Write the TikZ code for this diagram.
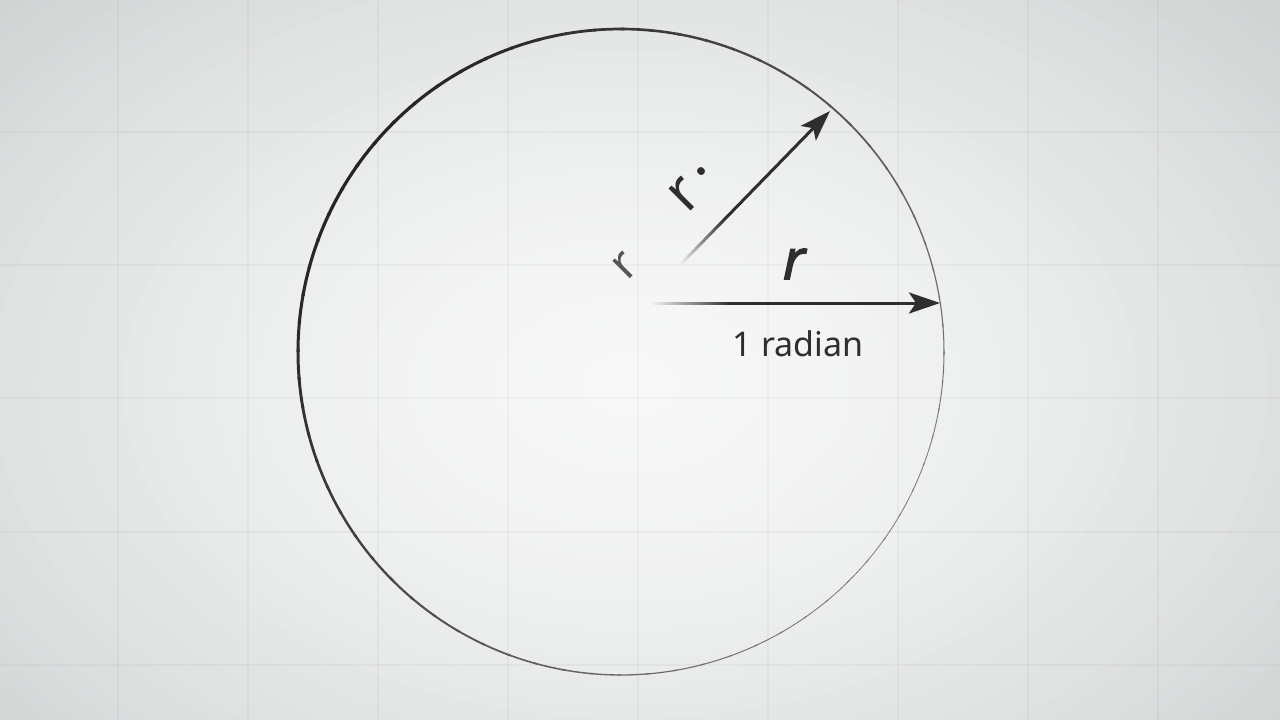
\documentclass[tikz,border=0pt]{standalone}
\usepackage{fontspec}
\setmainfont{Noto Sans}
\newfontfamily\heavyital[FakeBold=2.2,ItalicFont={* Italic}]{Noto Sans}
\usetikzlibrary{arrows.meta,calc}
\definecolor{bglight}{HTML}{F8F8F8}
\definecolor{bgdark}{HTML}{D0D3D3}
\definecolor{ink}{HTML}{2E2E2E}
\definecolor{circdark}{HTML}{242424}
\definecolor{circlight}{HTML}{7A7A7A}
\definecolor{gridc}{HTML}{000000}
\definecolor{softink}{HTML}{555555}
\begin{document}
\begin{tikzpicture}[x=1pt,y=-1pt,
  lab/.style={inner sep=0pt, text=ink},
  shaft/.style={line width=3pt, draw=ink},
  tip/.style={-{Stealth[length=31pt,width=21pt,inset=7pt]}},
  gridline/.style={draw=gridc, opacity=0.03, line width=2pt}]
\useasboundingbox (0,0) rectangle (1280,720);
% background
\begin{scope}
\clip (0,0) rectangle (1280,720);
\fill[bgdark] (0,0) rectangle (1280,720);
\foreach \i in {40,39,...,1}{
  \pgfmathtruncatemacro\p{100*(\i/40)^1.5}
  \fill[bgdark!\p!bglight] (630,385) ellipse[x radius={\i*22}, y radius={\i*14.5}];
}
\foreach \x in {118,248,...,1158} \draw[gridline] (\x,0) -- (\x,720);
\foreach \y in {132,265,398,532,665} \draw[gridline] (0,\y) -- (1280,\y);
\end{scope}
% circle
\coordinate (O) at (621,352);
\foreach \a in {0,5,...,355}{
  \pgfmathsetmacro\w{2.0+1.2*cos(\a+2.5-215)}
  \pgfmathtruncatemacro\p{50+50*cos(\a+2.5-215)}
  \draw[line width=\w pt, draw=circdark!\p!circlight] ({621+323*cos(\a)},{352+323*sin(\a)}) arc[start angle=\a, end angle=\a+5.6, radius=323];
}
% horizontal arrow
\coordinate (h0) at (652,303);
\coordinate (h1) at (940,303);
\draw[shaft, tip] ($(h0)!0.28!(h1)$) -- (h1);
\foreach \i in {0,...,27}{
  \pgfmathsetmacro\o{(\i+1)/28}
  \draw[shaft, opacity=\o] ($(h0)!{\i*0.01}!(h1)$) -- ($(h0)!{(\i+1)*0.01}!(h1)$);
}
% diagonal arrow
\coordinate (d0) at (681,264);
\coordinate (d1) at (830,111);
\draw[shaft, tip] ($(d0)!0.3!(d1)$) -- (d1);
\foreach \i in {0,...,29}{
  \pgfmathsetmacro\o{(\i+1)/30}
  \draw[shaft, opacity=\o] ($(d0)!{\i*0.01}!(d1)$) -- ($(d0)!{(\i+1)*0.01}!(d1)$);
}
% labels
\node[lab, font=\fontsize{56}{60}\selectfont\heavyital\itshape] (rlab) at (794,264) {r};
\node[lab, font=\fontsize{34}{40}\selectfont] (radlab) at (798,344) {1 radian};
\node[lab, font=\fontsize{58}{62}\selectfont, rotate=45] (rdot) at (693,186) {r\kern9pt·};
\node[lab, font=\fontsize{46}{50}\selectfont, text=softink, rotate=45] (rsmall) at (625,266) {r};
\end{tikzpicture}
\end{document}
